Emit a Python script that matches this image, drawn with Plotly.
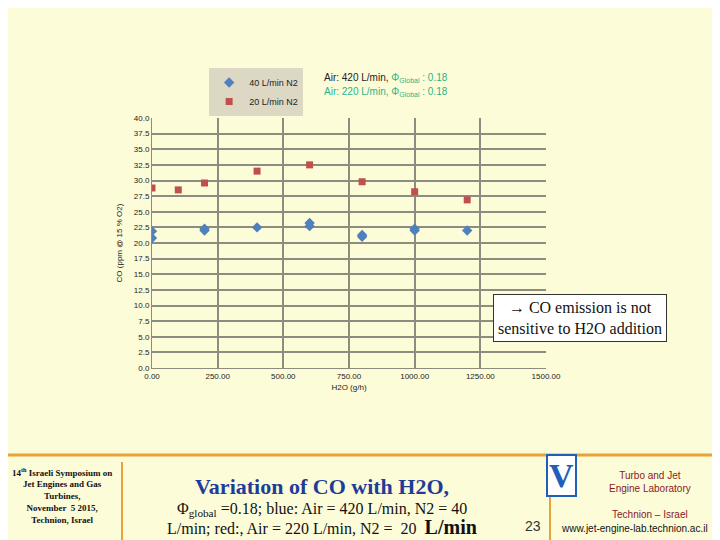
"""CO vs H2O slide chart."""
from plotly.graph_objects import Scatter, Figure

h2o_blue = [0, 0, 200, 200, 400, 600, 600, 800, 800, 1000, 1000, 1200]
co_blue = [21.9, 20.8, 22.3, 22.0, 22.5, 23.2, 22.7, 21.3, 21.0, 22.3, 22.0, 22.0]
h2o_red = [0, 100, 200, 400, 600, 800, 1000, 1200]
co_red = [28.8, 28.5, 29.6, 31.5, 32.5, 29.8, 28.2, 26.9]
y_ticks = [i * 2.5 for i in range(17)]
x_ticks = [0, 250, 500, 750, 1000, 1250, 1500]

BG = "#fdfcd9"
fig = Figure()
fig.add_trace(Scatter(x=h2o_blue, y=co_blue, mode="markers", name="40 L/min N2",
                      marker=dict(symbol="diamond", size=8, color="#4f81bd")))
fig.add_trace(Scatter(x=h2o_red, y=co_red, mode="markers", name="20 L/min N2",
                      marker=dict(symbol="square", size=7, color="#c0504d")))

# page has an 8px body margin, so the figure is 712x532 and shifted
fig.update_layout(
    width=712, height=532, paper_bgcolor=BG, plot_bgcolor=BG,
    margin=dict(l=144, r=174, t=110, b=172),
    font=dict(family="Liberation Sans", size=8, color="#222"),
    showlegend=True,
    legend=dict(x=0.145, y=1.2, xanchor="left", yanchor="top",
                bgcolor="#ddd8c4", font=dict(size=9),
                itemwidth=30, tracegroupgap=2),
    xaxis=dict(range=[0, 1500], tickvals=x_ticks,
               ticktext=[f"{v:.2f}" for v in x_ticks],
               showgrid=True, gridcolor="#8c8c80", gridwidth=2,
               zeroline=False, showline=True, linecolor="#8c8c80",
               title=dict(text="H2O (g/h)", font=dict(size=8), standoff=4)),
    yaxis=dict(range=[0, 40], tickvals=y_ticks,
               ticktext=[f"{v:.1f}" for v in y_ticks],
               showgrid=True, gridcolor="#8c8c80", gridwidth=2,
               zeroline=False, showline=True, linecolor="#8c8c80",
               title=dict(text="CO (ppm @ 15 % O2)", font=dict(size=8), standoff=10)),
)


def px(xp, yp):
    """Convert window pixel coordinates into plot-paper coordinates."""
    return (xp - 152) / 394, (368 - yp) / 250


ann = [
    (322, 78, "Air: 420 L/min, <span style='color:#2bb38a'>Φ<sub>Global</sub> : 0.18</span>", "#222", 10, "Liberation Sans"),
    (322, 92, "Air: 220 L/min, Φ<sub>Global</sub> : 0.18", "#2bb38a", 10, "Liberation Sans"),
]
for xp, yp, txt, col, sz, fam in ann:
    x, y = px(xp, yp)
    fig.add_annotation(x=x, y=y, xref="paper", yref="paper", xanchor="left",
                       yanchor="middle", text=txt, showarrow=False,
                       font=dict(color=col, size=sz, family=fam))

x, y = px(493, 318)
fig.add_annotation(x=x, y=y, xref="paper", yref="paper", xanchor="left", yanchor="middle",
                   text="→ CO emission is not<br>sensitive to H2O addition", showarrow=False,
                   bgcolor="white", bordercolor="#333", borderwidth=1, borderpad=4,
                   font=dict(family="Liberation Serif", size=16, color="#111"))

x0, y0 = px(0, 455)
x1, _ = px(720, 455)
fig.add_shape(type="line", xref="paper", yref="paper", x0=x0, x1=x1, y0=y0, y1=y0,
              line=dict(color="#e8a23a", width=3))
for xl in (122, 550):
    xa, ya = px(xl, 462)
    _, yb = px(xl, 540)
    fig.add_shape(type="line", xref="paper", yref="paper", x0=xa, x1=xa, y0=ya, y1=yb,
                  line=dict(color="#e8a23a", width=2))

texts = [
    (62, 495, "<b>14<sup>th</sup> Israeli Symposium on<br>Jet Engines and Gas<br>Turbines,<br>November  5 2015,<br>Technion, Israel</b>",
     "#111", 9, "Liberation Serif"),
    (322, 486, "<b>Variation of CO with H2O,</b>", "#1f3c99", 22, "Liberation Serif"),
    (322, 509, "Φ<sub>global</sub> =0.18; blue: Air = 420 L/min, N2 = 40", "#111", 16, "Liberation Serif"),
    (322, 527, "L/min; red:, Air = 220 L/min, N2 =  20  <span style='font-size:20px'><b>L/min</b></span>", "#111", 16, "Liberation Serif"),
    (650, 495, "Turbo and Jet<br>Engine Laboratory<br><br>Technion – Israel", "#8b1a1a", 10, "Liberation Sans"),
    (533, 526, "23", "#333", 14, "Liberation Sans"),
    (634, 528, "www.jet-engine-lab.technion.ac.il", "#111", 10, "Liberation Sans"),
]
for xp, yp, txt, col, sz, fam in texts:
    x, y = px(xp, yp)
    fig.add_annotation(x=x, y=y, xref="paper", yref="paper", xanchor="center",
                       yanchor="middle", text=txt, showarrow=False, align="center",
                       font=dict(color=col, size=sz, family=fam))

x, y = px(577, 497)
fig.add_annotation(x=x, y=y, xref="paper", yref="paper", text="<b>V</b>", showarrow=False,
                   font=dict(size=34, color="#1f5fb8", family="Liberation Serif"),
                   bgcolor="white", bordercolor="#1f5fb8", borderwidth=2)

fig.write_html("out.html")
